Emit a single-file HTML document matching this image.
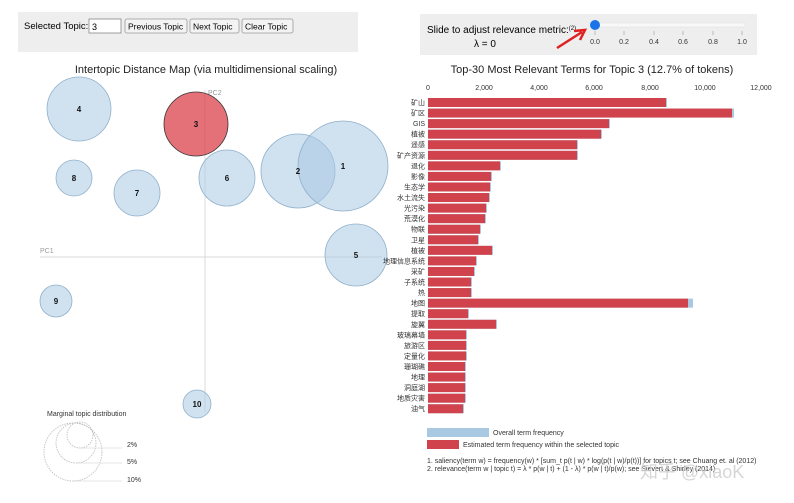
<!DOCTYPE html><html><head><meta charset="utf-8"><style>
body{margin:0;background:#fff;width:794px;height:503px;overflow:hidden;font-family:"Liberation Sans","Noto Sans CJK SC",sans-serif}
</style></head><body>
<svg width="794" height="503" style="position:absolute;left:0;top:0" font-family="Liberation Sans, Noto Sans CJK SC, sans-serif">
<rect x="18" y="12" width="340" height="40" fill="#eeeeee"/>
<text x="24" y="29" font-size="9.5" fill="#000">Selected Topic:</text>
<rect x="89" y="19" width="32" height="14" fill="#fff" stroke="#888" stroke-width="0.8"/>
<text x="92" y="30" font-size="9">3</text>
<g font-size="8.5" fill="#000">
<rect x="125" y="19" width="62" height="14" rx="2" fill="#f3f3f3" stroke="#999" stroke-width="0.8"/><text x="128" y="29.5">Previous Topic</text>
<rect x="190" y="19" width="49" height="14" rx="2" fill="#f3f3f3" stroke="#999" stroke-width="0.8"/><text x="193" y="29.5">Next Topic</text>
<rect x="242" y="19" width="51" height="14" rx="2" fill="#f3f3f3" stroke="#999" stroke-width="0.8"/><text x="245" y="29.5">Clear Topic</text>
</g>
<rect x="420" y="14" width="337" height="41" fill="#eeeeee"/>
<text x="427" y="33" font-size="10">Slide to adjust relevance metric:<tspan font-size="6" dy="-3">(2)</tspan></text>
<text x="474" y="47" font-size="10">λ = 0</text>
<rect x="595" y="23" width="150" height="4" fill="#f8f8f8" stroke="#ddd" stroke-width="0.5"/>
<circle cx="595" cy="25" r="5" fill="#1a73e8"/>
<g stroke="#999" stroke-width="0.6">
<line x1="595" y1="31" x2="595" y2="35"/><line x1="624" y1="31" x2="624" y2="35"/><line x1="654" y1="31" x2="654" y2="35"/><line x1="683" y1="31" x2="683" y2="35"/><line x1="713" y1="31" x2="713" y2="35"/><line x1="742" y1="31" x2="742" y2="35"/>
</g>
<g font-size="7" fill="#333" text-anchor="middle"><text x="595" y="44">0.0</text><text x="624" y="44">0.2</text><text x="654" y="44">0.4</text><text x="683" y="44">0.6</text><text x="713" y="44">0.8</text><text x="742" y="44">1.0</text></g>
<path d="M557 48 L582 32 M574 31 L585 30 L580 40" stroke="#e02020" stroke-width="2.5" fill="none"/>
<text x="206" y="73" font-size="11" text-anchor="middle" fill="#222">Intertopic Distance Map (via multidimensional scaling)</text>
<text x="592" y="73" font-size="11" text-anchor="middle" fill="#222">Top-30 Most Relevant Terms for Topic 3 (12.7% of tokens)</text>
<line x1="40" y1="257" x2="382" y2="257" stroke="#ccc" stroke-width="0.7"/>
<line x1="205" y1="90" x2="205" y2="412" stroke="#ccc" stroke-width="0.7"/>
<text x="40" y="253" font-size="7" fill="#999">PC1</text>
<text x="208" y="95" font-size="7" fill="#999">PC2</text>
<g fill="#a9c9e2" fill-opacity="0.55" stroke="#8fb0cc" stroke-width="0.8">
<circle cx="79" cy="109" r="32"/><circle cx="74" cy="178" r="18"/><circle cx="137" cy="193" r="23"/>
<circle cx="227" cy="178" r="28"/><circle cx="298" cy="171" r="37"/><circle cx="343" cy="166" r="45"/>
<circle cx="356" cy="255" r="31"/><circle cx="56" cy="301" r="16"/><circle cx="197" cy="404" r="14"/>
</g>
<circle cx="196" cy="124" r="32" fill="#d9424a" fill-opacity="0.75" stroke="#333" stroke-width="0.8"/>
<g font-size="8" font-weight="bold" text-anchor="middle" fill="#111">
<text x="79" y="112">4</text><text x="196" y="127">3</text><text x="74" y="181">8</text><text x="137" y="196">7</text><text x="227" y="181">6</text><text x="298" y="174">2</text><text x="343" y="169">1</text><text x="356" y="258">5</text><text x="56" y="304">9</text><text x="197" y="407">10</text>
</g>
<text x="47" y="416" font-size="7" fill="#333">Marginal topic distribution</text>
<g fill="none" stroke="#bbb" stroke-dasharray="1.5,1" stroke-width="0.8">
<circle cx="80" cy="435" r="13"/><circle cx="76" cy="443" r="20"/><circle cx="73" cy="452" r="29"/>
</g>
<g stroke="#ccc" stroke-width="0.6"><line x1="80" y1="448" x2="122" y2="448"/><line x1="76" y1="463" x2="122" y2="463"/><line x1="73" y1="481" x2="122" y2="481"/></g>
<g font-size="7" fill="#333"><text x="127" y="447">2%</text><text x="127" y="464">5%</text><text x="127" y="482">10%</text></g>
<g font-size="7" fill="#333" text-anchor="middle">
<text x="428" y="90">0</text><text x="484" y="90">2,000</text><text x="539" y="90">4,000</text><text x="594" y="90">6,000</text><text x="650" y="90">8,000</text><text x="705" y="90">10,000</text><text x="761" y="90">12,000</text>
</g>
<g id="bars"></g>
<rect x="427" y="428" width="62" height="9" fill="#a9c9e2"/>
<rect x="427" y="440" width="32" height="9" fill="#d0434c"/>
<g font-size="7" fill="#333"><text x="493" y="435">Overall term frequency</text><text x="463" y="447">Estimated term frequency within the selected topic</text>
<text x="427" y="463">1. saliency(term w) = frequency(w) * [sum_t p(t | w) * log(p(t | w)/p(t))] for topics t; see Chuang et. al (2012)</text>
<text x="427" y="471">2. relevance(term w | topic t) = λ * p(w | t) + (1 - λ) * p(w | t)/p(w); see Sievert &amp; Shirley (2014)</text></g>
<text x="640" y="478" font-size="18" fill="#ccc" fill-opacity="0.8">知乎 @xiaoK</text>
</svg>
<script>
var d=[["矿山",666],["矿区",732,734],["GIS",609],["植被",601],["遥感",577],["矿产资源",577],["退化",500],["影像",491],["生态学",490],["水土流失",489],["光污染",486],["荒漠化",485],["物联",480],["卫星",478],["植被",492],["地理信息系统",476],["采矿",474],["子系统",471],["热",471],["地图",688,693],["提取",468],["旋翼",496],["玻璃幕墙",466],["旅游区",466],["定量化",466],["珊瑚礁",465],["地理",465],["洞庭湖",465],["地质灾害",465],["油气",463]];
var s="";for(var i=0;i<d.length;i++){var y=98+i*10.56;var o=d[i][2]||d[i][1]+1;
s+='<rect x="428" y="'+y+'" width="'+(o-428)+'" height="9" fill="#a9c9e2"/>';
s+='<rect x="428" y="'+y+'" width="'+(d[i][1]-428)+'" height="9" fill="#d0434c"/>';
s+='<text x="425" y="'+(y+7)+'" font-size="7" text-anchor="end" fill="#333">'+d[i][0]+'</text>';}
document.getElementById("bars").innerHTML=s;
</script>
</body></html>
